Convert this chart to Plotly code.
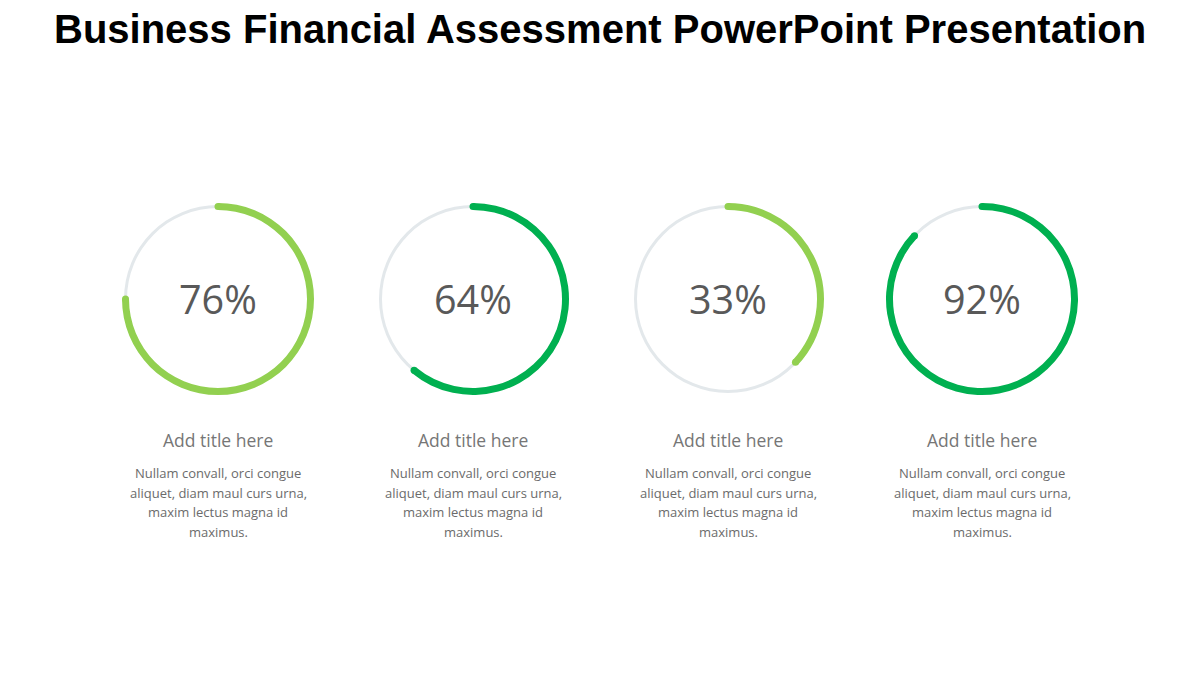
import plotly.graph_objects as go

title_text = "Business Financial Assessment PowerPoint Presentation"
labels_pct = [76, 64, 33, 92]          # numbers printed in the centres
arc_pct = [75, 61, 37, 87]             # share of the ring drawn in green
arc_colors = ["#92D050", "#00B050", "#92D050", "#00B050"]
track_color = "#E3E8EB"
card_titles = ["Add title here"] * 4
body_lines = ["Nullam convall, orci congue", "aliquet, diam maul curs urna,",
              "maxim lectus magna id", "maximus."]

W, H = 1200, 675
centers_x = [218, 473, 728, 982]
center_y = 299
R_DOM = 100      # polar domain radius in px; radial range 0..100 -> 1 unit = 1 px
RING_R = 92.5
TRACK_W = 3
ARC_W = 7

fig = go.Figure()

def label(x_px, y_px, text, size, color, family="Open Sans"):
    fig.add_annotation(x=x_px / W, y=1 - y_px / H, xref="paper", yref="paper",
                       xanchor="center", yanchor="middle", text=text, showarrow=False,
                       font=dict(family=family, size=size, color=color))

layout_polars = {}
for i, (lab, arc) in enumerate(zip(labels_pct, arc_pct)):
    cx = centers_x[i]
    pname = "polar" if i == 0 else f"polar{i + 1}"
    deg = arc * 3.6
    # grey track
    fig.add_trace(go.Barpolar(r=[TRACK_W], base=[RING_R - TRACK_W / 2], theta=[180], width=[360],
                              marker=dict(color=track_color, line=dict(width=0)),
                              hoverinfo="skip", showlegend=False, subplot=pname))
    # green arc
    fig.add_trace(go.Barpolar(r=[ARC_W], base=[RING_R - ARC_W / 2], theta=[deg / 2], width=[deg],
                              marker=dict(color=arc_colors[i], line=dict(width=0)),
                              hoverinfo="skip", showlegend=False, subplot=pname))
    # rounded caps
    fig.add_trace(go.Scatterpolar(r=[RING_R, RING_R], theta=[0, deg], mode="markers",
                                  marker=dict(size=ARC_W, color=arc_colors[i], line=dict(width=0)),
                                  hoverinfo="skip", showlegend=False, subplot=pname))
    layout_polars[pname] = dict(
        domain=dict(x=[(cx - R_DOM) / W, (cx + R_DOM) / W],
                    y=[1 - (center_y + R_DOM) / H, 1 - (center_y - R_DOM) / H]),
        bgcolor="rgba(0,0,0,0)", barmode="overlay",
        radialaxis=dict(range=[0, R_DOM], visible=False, showgrid=False),
        angularaxis=dict(rotation=90, direction="clockwise", showgrid=False, showline=False,
                         showticklabels=False, ticks=""),
    )
    label(cx, center_y, f"{lab}%", 39.5, "#595959")
    label(cx, 440, card_titles[i], 17.5, "#767676")
    for j, line in enumerate(body_lines):
        label(cx, 473 + j * 19.7, line, 13, "#6b6b6b")

label(600, 29, f"<b>{title_text}</b>", 40, "#000000", family="Liberation Sans")

fig.update_layout(width=W, height=H, margin=dict(l=0, r=0, t=0, b=0),
                  paper_bgcolor="white", plot_bgcolor="white", **layout_polars)
fig.write_html("out.html")
